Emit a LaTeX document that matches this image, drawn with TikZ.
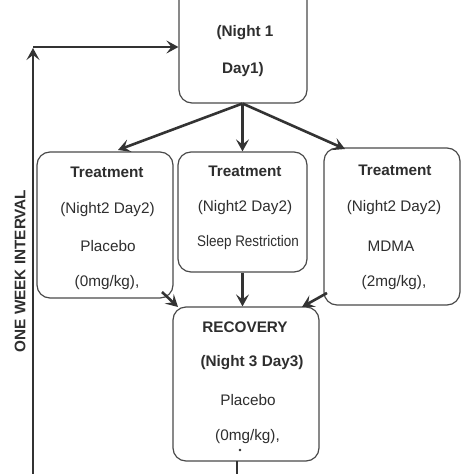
\documentclass[tikz,border=0pt]{standalone}
\usepackage{fontspec}
\setmainfont{Liberation Sans}
\usetikzlibrary{arrows.meta}
\definecolor{linec}{HTML}{333333}
\definecolor{boxc}{HTML}{4A4A4A}
\definecolor{textc}{HTML}{2E2E2E}
\begin{document}
\begin{tikzpicture}[x=1pt,y=-1pt,
  box/.style={draw=boxc, line width=1.2pt, rounded corners=13pt, inner sep=0pt},
  conn/.style={draw=linec, line width=2.6pt, -{Stealth[length=12pt,width=13pt,inset=5pt]}},
  plain/.style={draw=linec, line width=2.6pt},
  txt/.style={font=\fontsize{15.3}{18}\selectfont, text=textc, inner sep=0pt},
  btxt/.style={font=\fontsize{15.3}{18}\selectfont\bfseries, text=textc, inner sep=0pt}]
\clip (0,0) rectangle (474,474);
\fill[white] (0,0) rectangle (474,474);
% boxes
\node[box, minimum width=128pt, minimum height=140pt] (top) at (243,33) {};
\node[box, minimum width=136pt, minimum height=146pt] (left) at (105,225) {};
\node[box, minimum width=129pt, minimum height=120pt] (mid) at (242.5,212) {};
\node[box, minimum width=136pt, minimum height=157pt] (right) at (392,226.5) {};
\node[box, minimum width=146pt, minimum height=154pt] (bot) at (246,384) {};
% texts
\node[btxt] (t1) at (245,33) {(Night 1};
\node[btxt] (t2) at (243,70) {Day1)};
\node[btxt] (l1) at (107,172) {Treatment};
\node[txt] (l2) at (107.5,210) {(Night2 Day2)};
\node[txt] (l3) at (108,246) {Placebo};
\node[txt] (l4) at (107,283) {(0mg/kg),};
\node[btxt] (m1) at (245,171) {Treatment};
\node[txt] (m2) at (245,208) {(Night2 Day2)};
\node[txt] (m3) at (248,243) {\scalebox{0.88}[1]{Sleep Restriction}};
\node[btxt] (r1) at (395,170) {Treatment};
\node[txt] (r2) at (394,208) {(Night2 Day2)};
\node[txt] (r3) at (391,246) {MDMA};
\node[txt] (r4) at (394,283) {(2mg/kg),};
\node[btxt] (b1) at (245,327) {RECOVERY};
\node[btxt] (b2) at (252,363) {(Night 3 Day3)};
\node[txt] (b3) at (248,400) {Placebo};
\node[txt] (b4) at (247.5,437) {(0mg/kg),};
\fill[textc] (240,450) circle (1.4pt);
\node[btxt, rotate=90] (week) at (20,271) {ONE WEEK INTERVAL};
% connectors
\coordinate (fan) at (242.5,103.5);
\coordinate (lt) at (118,150);
\coordinate (rt) at (345,149);
\draw[conn] (fan) -- (lt);
\draw[conn] (fan) -- (mid.north);
\draw[conn] (fan) -- (rt);
\draw[conn] (mid.south) -- (mid.south |- bot.north);
\coordinate (ls) at (162,292);
\coordinate (le) at (178,307);
\draw[conn] (ls) -- (le);
\coordinate (rs) at (327,293);
\coordinate (re) at (302,307);
\draw[conn] (rs) -- (re);
\coordinate (bs) at (237,461);
\coordinate (be) at (237,480);
\draw[plain] (bs) -- (be);
\coordinate (vb) at (33,480);
\coordinate (vt) at (33,48);
\draw[conn] (vb) -- (vt);
\coordinate (h1) at (33,47);
\draw[conn] (h1) -- (h1 -| top.west);
\end{tikzpicture}
\end{document}
